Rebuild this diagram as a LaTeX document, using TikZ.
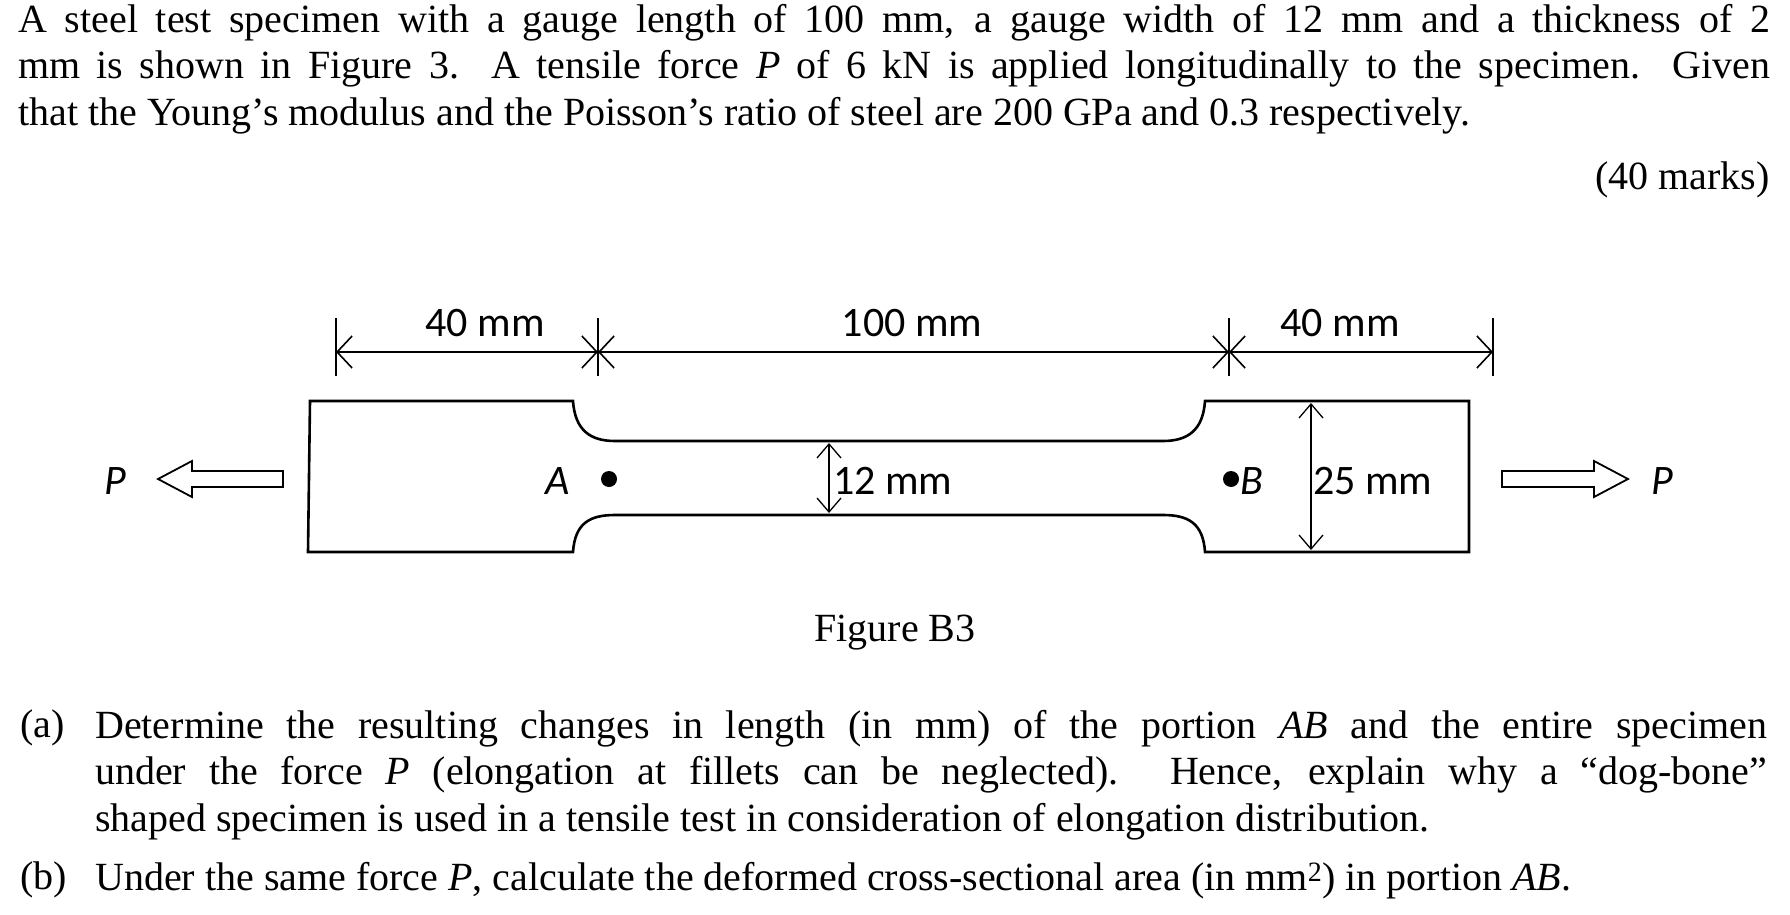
\documentclass[tikz,border=0pt]{standalone}
\usepackage{fontspec}
\setmainfont{Liberation Serif}
\newfontfamily\calfont{Carlito}
\usetikzlibrary{arrows.meta}
\begin{document}
\begin{tikzpicture}[x=1pt,y=-1pt,
  body/.style={line width=2.6pt},
  dim/.style={line width=1.6pt},
  ext/.style={line width=1.3pt},
  lbl/.style={font=\calfont\fontsize{42}{46}\selectfont,inner sep=0pt},
  ilbl/.style={font=\calfont\itshape\fontsize{42}{46}\selectfont,inner sep=0pt},
  para/.style={font=\fontsize{40}{46.5}\selectfont,inner sep=0pt,anchor=north west,align=justify}]
\useasboundingbox (0,0) rectangle (1790,915);
% top paragraph
\node[para,text width=1752pt] (t1) at (18,4) {A steel test specimen with a gauge length of 100 mm, a gauge width of 12 mm and a thickness of 2\linebreak mm is shown in Figure 3. A tensile force \textit{P} of 6 kN is applied longitudinally to the specimen. Given\linebreak that the Young’s modulus and the Poisson’s ratio of steel are 200 GPa and 0.3 respectively.};
\node[font=\fontsize{40}{46}\selectfont,anchor=east,inner sep=0pt] (marks) at (1770,180) {(40 marks)};
% specimen
\draw[body] (310,401) -- (573,401) .. controls (575,430) and (590,441) .. (615,441) -- (1163,441) .. controls (1188,441) and (1203,430) .. (1205,401) -- (1469,401) -- (1469,552) -- (1205,552) .. controls (1203,523) and (1188,515) .. (1163,515) -- (615,515) .. controls (590,515) and (575,523) .. (573,552) -- (308,552) -- cycle;
% extension lines
\coordinate (e1t) at (336,318); \coordinate (e1b) at (336,376);
\coordinate (e2t) at (598,318); \coordinate (e2b) at (598,376);
\coordinate (e3t) at (1229,318); \coordinate (e3b) at (1229,376);
\coordinate (e4t) at (1493,318); \coordinate (e4b) at (1493,376);
\foreach \a/\b in {e1t/e1b,e2t/e2b,e3t/e3b,e4t/e4b} \draw[ext] (\a) -- (\b);
\coordinate (d1) at (336,352); \coordinate (d2) at (598,352);
\coordinate (d3) at (1229,352); \coordinate (d4) at (1493,352);
\tikzset{bb/.style={dim,{Straight Barb[length=15pt,width=32pt]}-{Straight Barb[length=15pt,width=32pt]}},
  sb/.style={ext,{Straight Barb[length=14pt,width=24pt]}-{Straight Barb[length=14pt,width=24pt]}}}
\draw[bb] (d1) -- (d2);
\draw[bb] (d2) -- (d3);
\draw[bb] (d3) -- (d4);
\node[lbl] (l40a) at (485,323) {40 mm};
\node[lbl] (l100) at (912,323) {100 mm};
\node[lbl] (l40b) at (1340,323) {40 mm};
% 12 mm and 25 mm
\coordinate (w1) at (829,443); \coordinate (w2) at (829,513);
\draw[sb] (w1) -- (w2);
\node[lbl,anchor=west] (l12) at (833,481) {12 mm};
\coordinate (h1) at (1311,403); \coordinate (h2) at (1311,550);
\draw[sb] (h1) -- (h2);
\node[lbl,anchor=west] (l25) at (1313,481) {25 mm};
% A, B
\fill (609,479) circle (8);
\node[ilbl] (A) at (558,481) {A};
\fill (1231,479) circle (8);
\node[ilbl] (B) at (1252,481) {B};
% loads
\draw[line width=1.8pt] (283,471) -- (192,471) -- (192,461) -- (158,479) -- (192,497) -- (192,487) -- (283,487) -- cycle;
\draw[line width=1.8pt] (1502,471) -- (1594,471) -- (1594,461) -- (1628,479) -- (1594,497) -- (1594,487) -- (1502,487) -- cycle;
\node[ilbl] (P1) at (115,481) {P};
\node[ilbl] (P2) at (1662,481) {P};
\node[font=\fontsize{40}{46}\selectfont,inner sep=0pt] (fig) at (895,633) {Figure B3};
% questions
\node[para] (qa) at (20,710) {(a)};
\node[para,text width=1672pt] (ta) at (95,710) {Determine the resulting changes in length (in mm) of the portion \textit{AB} and the entire specimen\linebreak under the force \textit{P} (elongation at fillets can be neglected). Hence, explain why a “dog-bone”\linebreak shaped specimen is used in a tensile test in consideration of elongation distribution.};
\node[para] (qb) at (20,862) {(b)};
\node[para] (tb) at (95,862) {Under the same force \textit{P}, calculate the deformed cross-sectional area (in mm\textsuperscript{2}) in portion \textit{AB}.};
\end{tikzpicture}
\end{document}
